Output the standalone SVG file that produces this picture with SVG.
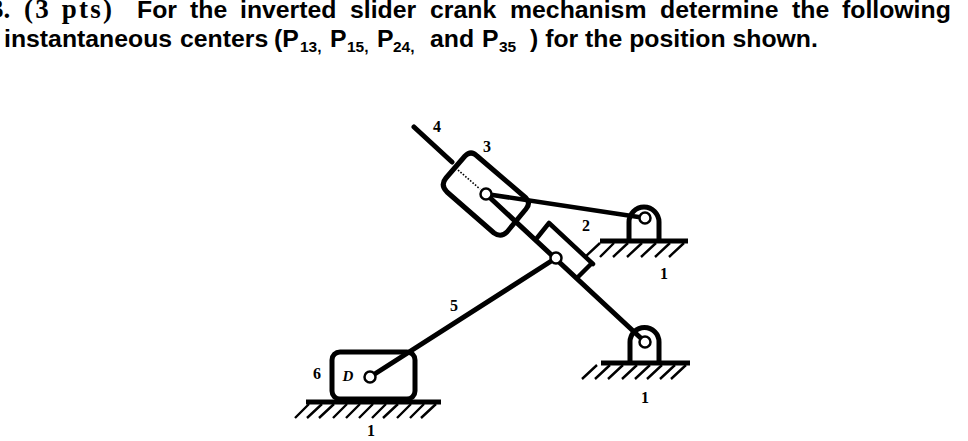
<svg xmlns="http://www.w3.org/2000/svg" width="968" height="441" viewBox="0 0 968 441">
<style>
.t{font:bold 24.8px "Liberation Sans",Arial,sans-serif;fill:#000}
.s{font:bold 27px "Liberation Serif",serif;fill:#000}
.sub{font:bold 15.500px "Liberation Sans",Arial,sans-serif;fill:#000}
.l{font:bold 16px "Liberation Serif",serif;fill:#000;text-anchor:middle}
.i{font:italic bold 15px "Liberation Serif",serif;fill:#000;text-anchor:middle}
.k{fill:none;stroke:#000;stroke-linecap:round;stroke-linejoin:round}
.pin{fill:#fff;stroke:#000;stroke-width:2.5}
.h{fill:none;stroke:#000;stroke-width:2.4}
</style>
<rect width="968" height="441" fill="#fff"/>
<g id="title">
<text class="s" x="-10" y="18">3.</text>
<text class="s" x="24" y="18" textLength="88" lengthAdjust="spacing" word-spacing="2">(3 pts)</text>
<text class="t" x="137" y="18">For</text>
<text class="t" x="190" y="18">the</text>
<text class="t" x="240" y="18">inverted</text>
<text class="t" x="350" y="18">slider</text>
<text class="t" x="430" y="18">crank</text>
<text class="t" x="510" y="18">mechanism</text>
<text class="t" x="660" y="18">determine</text>
<text class="t" x="792" y="18">the</text>
<text class="t" x="842" y="18">following</text>
<text class="t" x="4" y="47">instantaneous</text>
<text class="t" x="180" y="47">centers</text>
<text class="t" x="274" y="47">(P</text>
<text class="sub" x="300" y="52">13,</text>
<text class="t" x="330" y="47">P</text>
<text class="sub" x="347" y="52">15,</text>
<text class="t" x="377" y="47">P</text>
<text class="sub" x="393" y="52">24,</text>
<text class="t" x="430" y="47">and</text>
<text class="t" x="482" y="47">P</text>
<text class="sub" x="499" y="52">35</text>
<text class="t" x="530" y="47">) for the position shown.</text>
</g>
<g id="connectors">
<path class="k" stroke-width="5" d="M414 127L452 162M486 194L645 342"/>
<path class="k" stroke-width="4.500" d="M486 194L645 218"/>
<path class="k" stroke-width="5" d="M556 258L370 377"/>
<path fill="none" stroke="#000" stroke-width="1.6" stroke-dasharray="1.6 1.6" d="M458 170L480 189"/>
</g>
<g id="link3">
<path class="k" stroke-width="5" d="M465 156Q471 150 477 156L526 198Q531 203 526 209L507 232Q501 238 494 233L447 192Q440 185 446 178Z"/>
</g>
<g id="link2-slider"><path class="k" stroke-width="4.500" d="M537 238L549 223L593 264M590 265L578 277"/></g>
<g id="pins">
<circle class="pin" cx="486" cy="194" r="5.500"/>
<circle class="pin" cx="556" cy="258" r="5.500"/>
<circle class="pin" cx="370" cy="377" r="5.500"/>
</g>
<g id="slider6"><rect class="k" stroke-width="5" x="332" y="352" width="83" height="47" rx="8"/></g>
<g id="ground-bottom">
<path stroke="#000" stroke-width="5" d="M306 402H441"/>
<path class="h" d="M309 404L295 418M322 404L307 418M334 404L319 418M347 404L333 418M360 404L346 418M373 404L359 418M386 404L372 418M398 404L383 418M411 404L397 418M424 404L410 418M436 404L421 418"/>
</g>
<g id="pivot-upper">
<path class="k" stroke-width="5" d="M629 240V222A15 15 0 0 1 659 222V240"/>
<circle class="pin" cx="645" cy="218" r="5.500"/>
<path stroke="#000" stroke-width="5" d="M600 241H688"/>
<path class="h" d="M600 243L585 257M614 243L600 257M628 243L613 257M642 243L627 257M656 243L641 257M670 243L655 257M684 243L669 257"/>
</g>
<g id="pivot-lower">
<path class="k" stroke-width="5" d="M630 362V342A14.500 14.500 0 0 1 659 342V362"/>
<circle class="pin" cx="645" cy="342" r="5.500"/>
<path stroke="#000" stroke-width="5" d="M601 363H690"/>
<path class="h" d="M597 365L582 379M610 365L595 379M623 365L608 379M637 365L622 379M650 365L635 379M662 365L647 379M675 365L660 379M686 365L671 379"/>
</g>
<g id="labels">
<text class="l" x="437" y="132">4</text>
<text class="l" x="487" y="152">3</text>
<text class="l" x="586" y="231">2</text>
<text class="l" x="664" y="279">1</text>
<text class="l" x="454" y="311">5</text>
<text class="l" x="317" y="379">6</text>
<text class="i" x="348" y="381">D</text>
<text class="l" x="371" y="436">1</text>
<text class="l" x="645" y="403">1</text>
</g>
</svg>
